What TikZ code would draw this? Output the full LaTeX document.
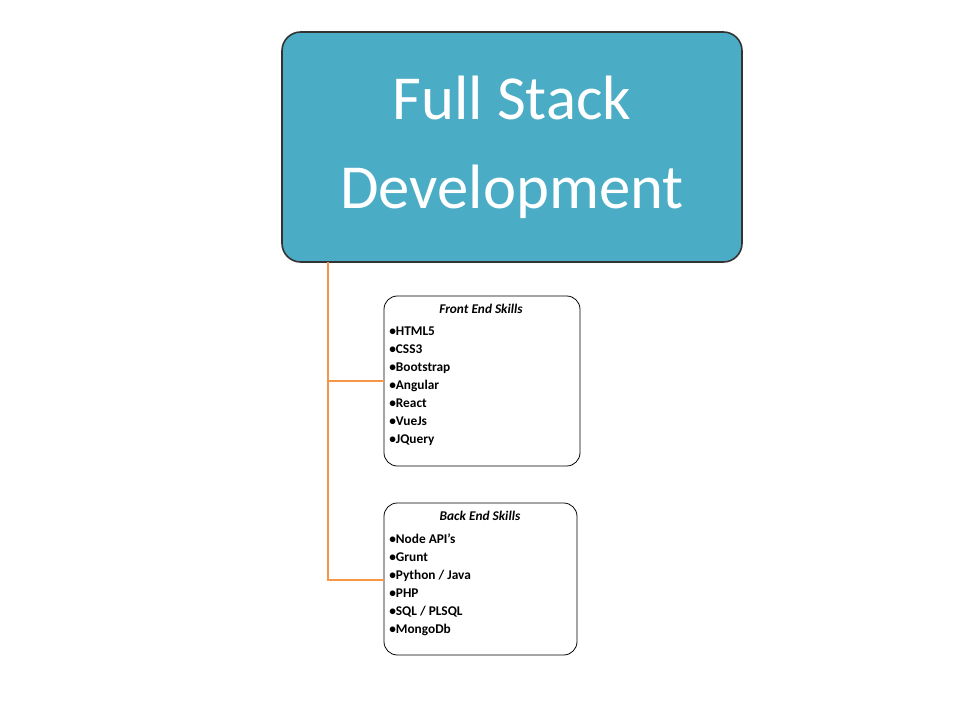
\documentclass[tikz,border=0pt]{standalone}
\usepackage{fontspec}
\setmainfont{Carlito}
\definecolor{teal1}{HTML}{4BACC6}
\definecolor{org}{HTML}{F79646}
\begin{document}
\begin{tikzpicture}[x=0.75pt,y=-0.75pt,
 mainbox/.style={draw=black!80,line width=1.2pt,fill=teal1,rounded corners=14pt},
 skillbox/.style={draw=black,line width=0.6pt,fill=white,rounded corners=10pt},
 conn/.style={draw=org,line width=1.8pt},
 lst/.style={anchor=north west,align=left,font=\fontsize{10}{13.5}\selectfont\bfseries,inner sep=0pt},
 ttl/.style={anchor=north,font=\fontsize{10}{12}\selectfont\bfseries\itshape,inner sep=0pt}]
\useasboundingbox (0,0) rectangle (960,720);
\draw[mainbox] (282,32) rectangle (742,262);
\node[text=white,align=center,font=\fontsize{47}{67}\selectfont] (main) at (512,147) {Full Stack\\Development};
\coordinate (top) at (328,262);
\coordinate (j1) at (328,381);
\coordinate (j2) at (328,580);
\draw[skillbox] (384,296) rectangle (580,466);
\draw[skillbox] (384,503) rectangle (577,655);
\coordinate (f) at (384,381);
\coordinate (b) at (384,580);
\draw[conn] (top) -- (j2) -- (b);
\draw[conn] (j1) -- (f);
\node[ttl] (ft) at (481,304) {Front End Skills};
\node[lst] (fl) at (389,327) {•HTML5\\•CSS3\\•Bootstrap\\•Angular\\•React\\•VueJs\\•JQuery};
\node[ttl] (bt) at (480,511) {Back End Skills};
\node[lst] (bl) at (389,534) {•Node API’s\\•Grunt\\•Python / Java\\•PHP\\•SQL / PLSQL\\•MongoDb};
\end{tikzpicture}
\end{document}
